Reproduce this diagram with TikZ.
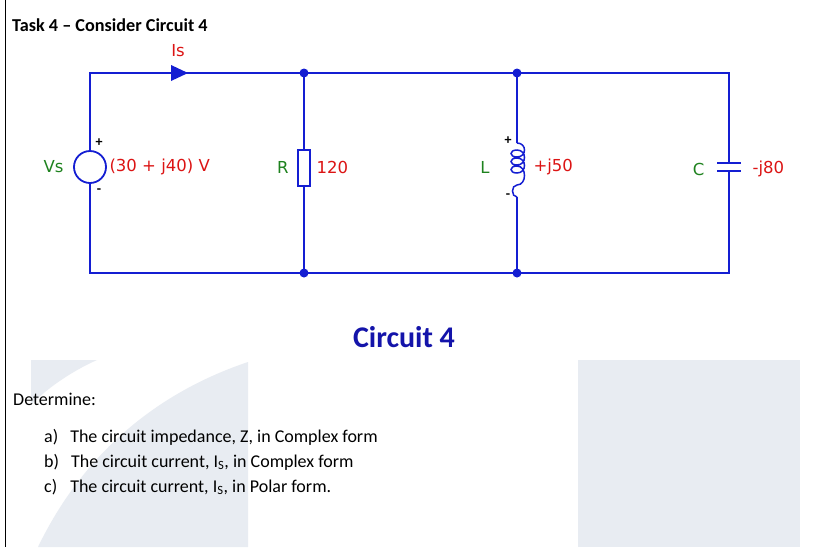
\documentclass[tikz,border=0pt]{standalone}
\usepackage{fontspec}
\setmainfont{Carlito}
\newfontfamily\vfont{DejaVu Sans}
\definecolor{wire}{RGB}{20,30,210}
\definecolor{lred}{RGB}{220,20,20}
\definecolor{lgreen}{RGB}{30,130,30}
\definecolor{bgshade}{RGB}{232,236,242}
\definecolor{ttl}{RGB}{20,20,170}
\begin{document}
\begin{tikzpicture}[x=1pt,y=-1pt,
  w/.style={draw=wire,line width=1.8pt},
  jdot/.style={circle,fill=wire,inner sep=0pt,minimum size=9pt},
  val/.style={text=lred,font=\vfont\fontsize{16.5}{18}\selectfont},
  nm/.style={text=lgreen,font=\vfont\fontsize{16.5}{18}\selectfont},
  pm/.style={font=\bfseries\fontsize{14}{14}\selectfont,inner sep=0pt},
  q/.style={anchor=west,font=\fontsize{18}{20}\selectfont,inner sep=0pt}]
\useasboundingbox (0,0) rectangle (816,547);
\fill[white] (0,0) rectangle (816,547);
% background shapes
\fill[bgshade] (31,360) -- (97,360) .. controls (70,372) and (45,390) .. (31,405) -- cycle;
\fill[bgshade] (248,362) -- (248,547) -- (38,547) .. controls (80,460) and (150,395) .. (248,362) -- cycle;
\fill[bgshade] (578,360) rectangle (800,547);
\draw[line width=0.8pt] (5,0) -- (5,547);
% title
\node[anchor=west,inner sep=0pt,font=\bfseries\fontsize{18.2}{20}\selectfont] (title) at (12,25) {Task 4 – Consider Circuit 4};
% coordinates
\coordinate (tl) at (90,73); \coordinate (bl) at (90,273);
\coordinate (t1) at (304,73); \coordinate (t2) at (517,73);
\coordinate (b1) at (304,273); \coordinate (b2) at (517,273);
\coordinate (tr) at (729,73); \coordinate (br) at (729,273);
% source
\node[circle,w,minimum size=32pt,inner sep=0pt] (vs) at (90,167) {};
\draw[w] (vs.north) -- (tl) -- (t1) -- (t2) -- (tr) -- (729,163);
\draw[w] (vs.south) -- (bl) -- (b1) -- (b2) -- (br) -- (729,171);
\fill[wire] (171,65) -- (188,73) -- (171,81) -- cycle;
\node[val] (is) at (178,51) {Is};
\node[nm,anchor=east] (vsl) at (67,167) {Vs};
\node[val,anchor=west] (vv) at (106,167) {(30 + j40) V};
\node[pm] (p1) at (99,143) {+}; \node[pm] (m1) at (99,191) {-};
% resistor
\node[draw=wire,line width=1.5pt,fill=white,minimum width=12pt,minimum height=36pt,inner sep=0pt] (r) at (304,168) {};
\draw[w] (t1) -- (r.north); \draw[w] (r.south) -- (b1);
\node[nm,anchor=east] (rl) at (292,167) {R};
\node[val,anchor=west] (rv) at (313,167) {120};
% inductor
\coordinate (la) at (517,143); \coordinate (lb) at (517,197);
\draw[w] (t2) -- (la); \draw[w] (lb) -- (b2);
\draw[draw=wire,line width=1.5pt] (la) .. controls (527,143) and (527,157) .. (517,157)
  .. controls (509,157) and (509,150) .. (517,150) .. controls (527,150) and (527,165) .. (517,165)
  .. controls (509,165) and (509,158) .. (517,158) .. controls (527,158) and (527,173) .. (517,173)
  .. controls (509,173) and (509,166) .. (517,166) .. controls (527,166) and (527,185) .. (517,185)
  .. controls (511,185) and (511,197) .. (lb);
\node[nm,anchor=east] (ll) at (493,167) {L};
\node[val,anchor=west] (lv) at (530,167) {+j50};
\node[pm] (p2) at (508,141) {+}; \node[pm] (m2) at (508,196) {-};
% junction dots
\foreach \p in {t1,t2,b1,b2} \node[jdot] at (\p) {};
% capacitor
\draw[draw=wire,line width=1.8pt] (717,163) -- (741,163) (717,171) -- (741,171);
\node[nm,anchor=east] (cl) at (708,169) {C};
\node[val,anchor=west] (cv) at (749,169) {-j80};
% caption
\node[text=ttl,font=\bfseries\fontsize{30}{32}\selectfont] (cap) at (404,337) {Circuit 4};
\node[q] (det) at (13,399) {Determine:};
\node[q] (qa) at (44,437) {a)\hspace{12pt}The circuit impedance, Z, in Complex form};
\node[q] (qb) at (44,462) {b)\hspace{12pt}The circuit current, I\textsubscript{S}, in Complex form};
\node[q] (qc) at (44,487) {c)\hspace{13pt}The circuit current, I\textsubscript{S}, in Polar form.};
\end{tikzpicture}
\end{document}
